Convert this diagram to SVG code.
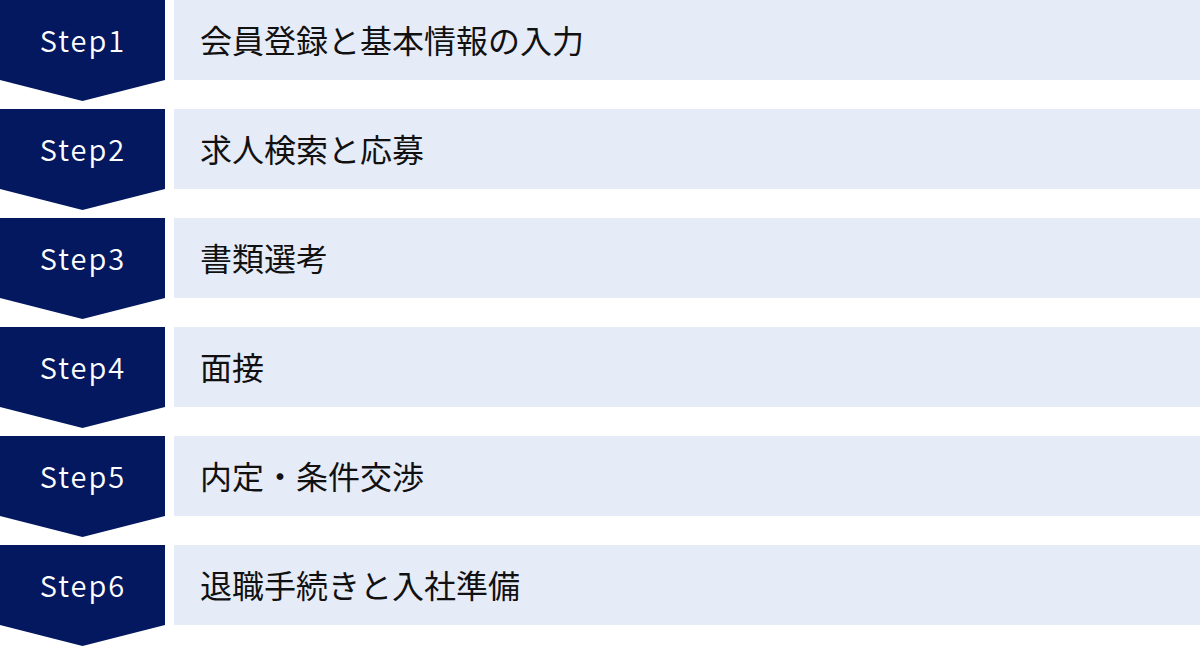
<svg xmlns="http://www.w3.org/2000/svg" width="1200" height="647" viewBox="0 0 1200 647">
<style>
.badge{fill:#041860}
.bar{fill:#e6ebf8}
.st{font-family:"Noto Sans CJK JP","Noto Sans",sans-serif;font-size:29px;font-weight:350;fill:#ffffff;text-anchor:middle;letter-spacing:2px}
.lb{font-family:"Noto Sans CJK JP","Noto Sans",sans-serif;font-size:32px;font-weight:400;fill:#111111}
</style>
<defs>
<polygon id="chev" points="0,0 165,0 165,80 82.5,101 0,80"/>
</defs>
<rect width="1200" height="647" fill="#ffffff"/>
<g id="step1" transform="translate(0,0)">
<use href="#chev" class="badge"/><rect class="bar" x="174" y="0" width="1026" height="80"/>
<text class="st" x="83" y="52">Step1</text><text class="lb" x="200" y="53">会員登録と基本情報の入力</text>
</g>
<g id="step2" transform="translate(0,109)">
<use href="#chev" class="badge"/><rect class="bar" x="174" y="0" width="1026" height="80"/>
<text class="st" x="83" y="52">Step2</text><text class="lb" x="200" y="53">求人検索と応募</text>
</g>
<g id="step3" transform="translate(0,218)">
<use href="#chev" class="badge"/><rect class="bar" x="174" y="0" width="1026" height="80"/>
<text class="st" x="83" y="52">Step3</text><text class="lb" x="200" y="53">書類選考</text>
</g>
<g id="step4" transform="translate(0,327)">
<use href="#chev" class="badge"/><rect class="bar" x="174" y="0" width="1026" height="80"/>
<text class="st" x="83" y="52">Step4</text><text class="lb" x="200" y="53">面接</text>
</g>
<g id="step5" transform="translate(0,436)">
<use href="#chev" class="badge"/><rect class="bar" x="174" y="0" width="1026" height="80"/>
<text class="st" x="83" y="52">Step5</text><text class="lb" x="200" y="53">内定・条件交渉</text>
</g>
<g id="step6" transform="translate(0,545)">
<use href="#chev" class="badge"/><rect class="bar" x="174" y="0" width="1026" height="80"/>
<text class="st" x="83" y="52">Step6</text><text class="lb" x="200" y="53">退職手続きと入社準備</text>
</g>
<g id="connectors"></g>
</svg>
